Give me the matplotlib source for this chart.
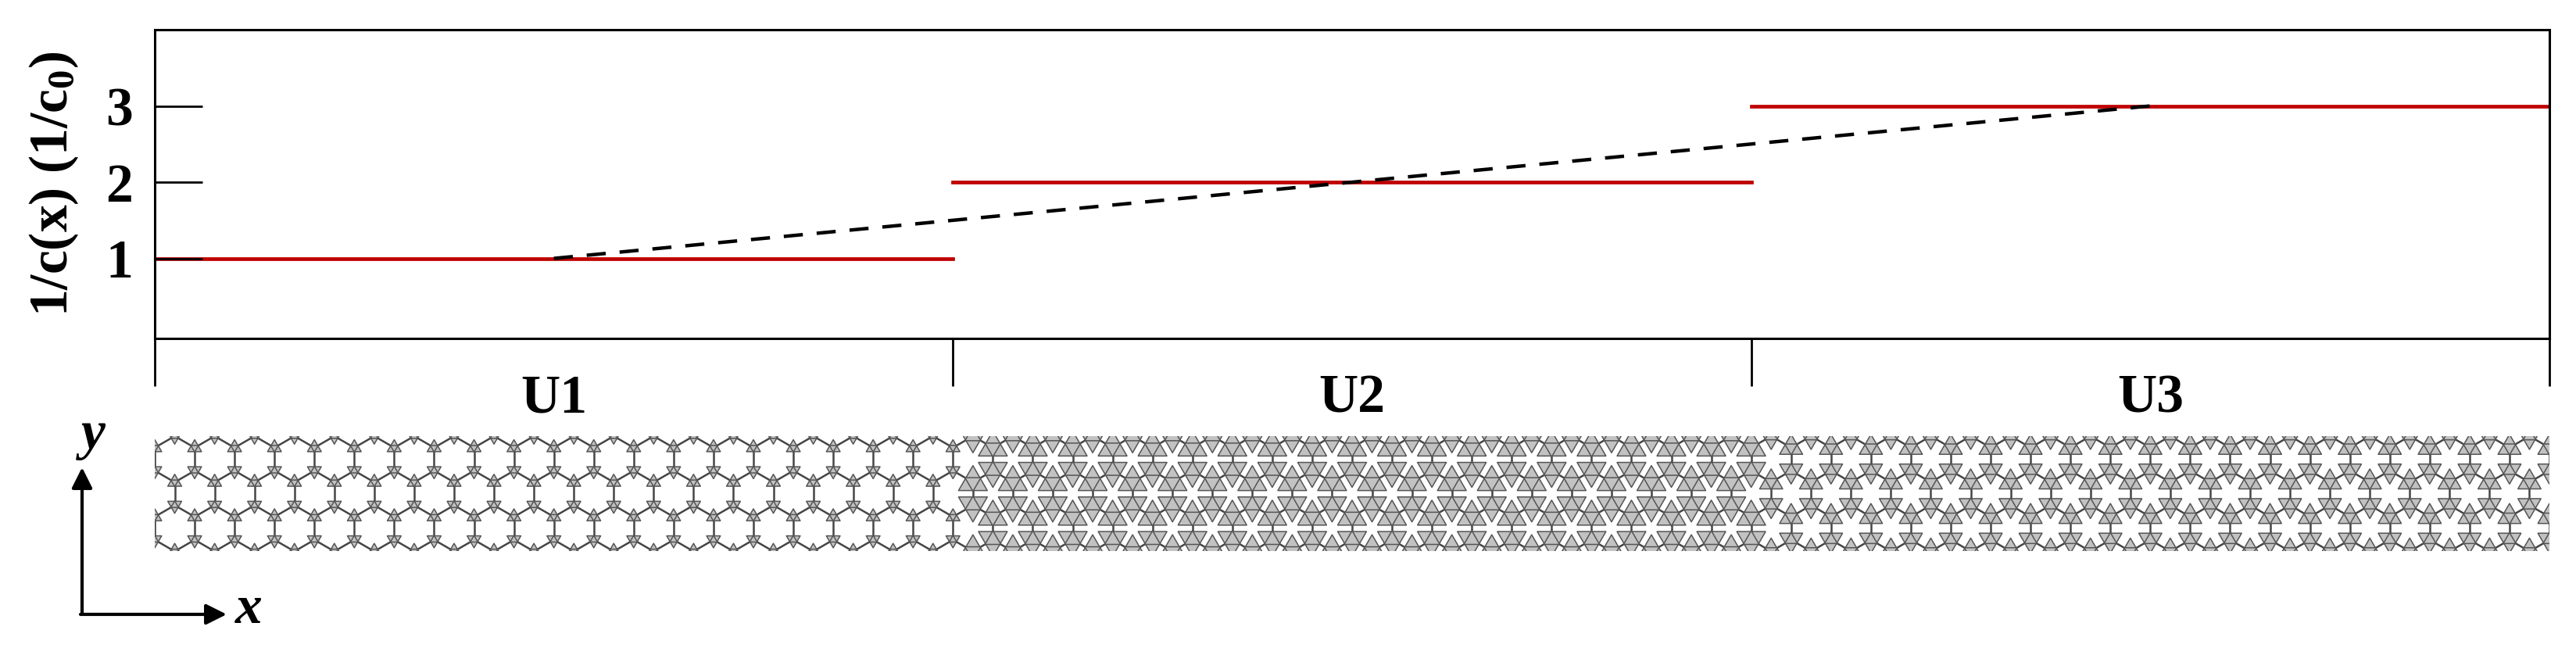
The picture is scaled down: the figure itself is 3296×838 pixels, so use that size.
import numpy as np
import matplotlib
matplotlib.use("Agg")
import matplotlib.pyplot as plt
from matplotlib.collections import LineCollection, PolyCollection

plt.rcParams['font.family'] = ['Liberation Serif', 'DejaVu Serif']
plt.rcParams['font.weight'] = 'bold'
plt.rcParams['mathtext.fontset'] = 'custom'
plt.rcParams['mathtext.rm'] = 'Liberation Serif:bold'
plt.rcParams['mathtext.it'] = 'Liberation Serif:bold:italic'

# data
regions = ['U1', 'U2', 'U3']
bounds = [0, 1, 2, 3]
levels = [1, 2, 3]
trend_x = [0.5, 2.5]
trend_y = [1, 3]
yticks = [1, 2, 3]

# lattice look per region (node triangle size relative to cell edge)
node_size = [0.6, 1.25, 1.0]
cols_per_region = 20

W, H = 3296, 838
fig = plt.figure(figsize=(W / 100, H / 100), dpi=100)

# ---- main plot
ax = fig.add_axes([198 / W, (H - 433) / H, 3064 / W, 395 / H])
for i, lvl in enumerate(levels):
    ax.plot([bounds[i], bounds[i + 1]], [lvl, lvl], color='#c00000', lw=3.4, zorder=2)
ax.plot(trend_x, trend_y, color='k', lw=3.2, linestyle=(0, (5.5, 4)), zorder=3)

ax.set_xlim(bounds[0], bounds[-1])
ax.set_ylim(-0.05, 4.0)
ax.set_axisbelow(False)
for sp in ax.spines.values():
    sp.set_linewidth(2.2)

ax.set_yticks(yticks)
ax.set_yticklabels([str(v) for v in yticks])
ax.tick_params(axis='y', direction='in', length=44, width=2, pad=20, labelsize=50)

ax.set_xticks(bounds)
ax.set_xticklabels([])
ax.tick_params(axis='x', which='major', direction='out', length=44, width=2)
ax.set_xticks([(bounds[i] + bounds[i + 1]) / 2 for i in range(len(regions))], minor=True)
ax.set_xticklabels(regions, minor=True)
ax.tick_params(axis='x', which='minor', length=0, pad=33, labelsize=50)

ax.set_ylabel('1/c(x) (1/c$_0$)', fontsize=50, fontweight='bold')
ax.yaxis.set_label_coords(-0.031, 0.5)

# ---- lattice strip
R = 1 / np.sqrt(3)
ncols = cols_per_region * len(regions)
px = 3064 / ncols
top_px = 558
ax_h = 5 * R * px
lax = fig.add_axes([198 / W, (H - top_px - ax_h) / H, 3064 / W, ax_h / H])
lax.set_xlim(0, ncols)
lax.set_ylim(-4 * R, R)
lax.axis('off')

cells = []
for r in range(3):
    cy = -1.5 * R * r
    if r == 1:
        xs = np.arange(0, ncols + 1)
    else:
        xs = np.arange(ncols) + 0.5
    for cx in xs:
        cells.append((cx, cy))

edges = {}
nodes = {}
ang = np.deg2rad([90, 30, -30, -90, -150, 150])
for cx, cy in cells:
    pts = [(cx + R * np.cos(a), cy + R * np.sin(a)) for a in ang]
    for j in range(6):
        p, q = pts[j], pts[(j + 1) % 6]
        key = tuple(sorted([(round(p[0], 4), round(p[1], 4)), (round(q[0], 4), round(q[1], 4))]))
        edges[key] = (p, q)
        kind = 'A' if j in (0, 2, 4) else 'B'
        nodes[(round(p[0], 4), round(p[1], 4))] = kind

lc = LineCollection(list(edges.values()), colors='#454545', linewidths=1.8, zorder=1)
lax.add_collection(lc)

tris = []
for (x, y), kind in nodes.items():
    reg = min(int((x - 1e-6) // cols_per_region), len(regions) - 1)
    reg = max(reg, 0)
    s = node_size[reg] * R
    outer = [270, 30, 150] if kind == 'A' else [90, 210, 330]
    inner = [a + 180 for a in outer]
    for dirs, size in ((outer, s), (inner, 0.55 * s)):
        d = 0.577 * size
        tris.append([(x + d * np.cos(np.deg2rad(a)), y + d * np.sin(np.deg2rad(a))) for a in dirs])

pc = PolyCollection(tris, facecolors='#c2c2c2', edgecolors='#555555', linewidths=1.1, zorder=2)
lax.add_collection(pc)

# ---- coordinate arrows
oax = fig.add_axes([0, 0, 1, 1])
oax.set_xlim(0, W)
oax.set_ylim(H, 0)
oax.axis('off')
arrow = dict(arrowstyle='-|>', lw=3, color='k', mutation_scale=40, shrinkA=0, shrinkB=0)
oax.annotate('', xy=(105, 598), xytext=(105, 786), arrowprops=arrow)
oax.annotate('', xy=(290, 786), xytext=(103, 786), arrowprops=arrow)
oax.text(119, 557, 'y', fontsize=50, style='italic', ha='center', va='center')
oax.text(318, 780, 'x', fontsize=50, style='italic', ha='center', va='center')

fig.savefig('out.png', dpi=100)
